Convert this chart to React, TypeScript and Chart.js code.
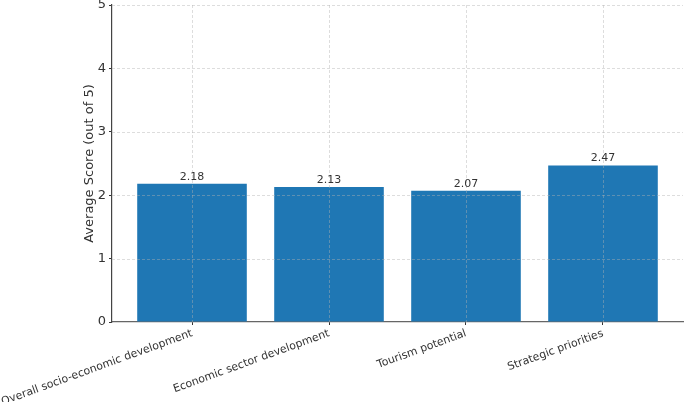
import React, { useEffect, useRef } from "react";
import { Chart, registerables } from "chart.js";

Chart.register(...registerables);

const categories = [
  "Overall socio-economic development",
  "Economic sector development",
  "Tourism potential",
  "Strategic priorities",
];
const scores = [2.18, 2.13, 2.07, 2.47];
const yTicks = [0, 1, 2, 3, 4, 5];
const yTitle = "Average Score (out of 5)";

const FONT = "'DejaVu Sans', sans-serif";

const overlayPlugin = {
  id: "overlay",
  afterDatasetsDraw(chart: any) {
    const { ctx, chartArea, scales } = chart;
    const xs = scales.x;
    const ys = scales.y;
    ctx.save();
    ctx.strokeStyle = "rgba(176,176,176,0.55)";
    ctx.lineWidth = 0.8;
    ctx.setLineDash([3, 2]);
    yTicks.forEach((v) => {
      if (v === 0) return;
      const y = Math.round(ys.getPixelForValue(v)) + 0.5;
      ctx.beginPath();
      ctx.moveTo(chartArea.left, y);
      ctx.lineTo(chartArea.right, y);
      ctx.stroke();
    });
    categories.forEach((_, i) => {
      const x = Math.round(xs.getPixelForValue(i)) + 0.5;
      ctx.beginPath();
      ctx.moveTo(x, chartArea.top);
      ctx.lineTo(x, chartArea.bottom);
      ctx.stroke();
    });
    ctx.setLineDash([]);
    const meta = chart.getDatasetMeta(0);
    ctx.fillStyle = "#333";
    ctx.font = `11px ${FONT}`;
    ctx.textAlign = "center";
    ctx.textBaseline = "alphabetic";
    meta.data.forEach((bar: any, i: number) => {
      ctx.fillText(scores[i].toFixed(2), bar.x, bar.y - 4);
    });
    ctx.restore();
  },
};

export default function App() {
  const ref = useRef<HTMLCanvasElement>(null);
  useEffect(() => {
    document.body.style.margin = "0";
    const chart = new Chart(ref.current!, {
      type: "bar",
      data: {
        datasets: [
          {
            data: scores.map((s, i) => ({ x: i, y: s })),
            backgroundColor: "#1f77b4",
            barPercentage: 0.8,
            categoryPercentage: 1,
          },
        ],
      },
      options: {
        responsive: false,
        animation: false,
        layout: { padding: { top: 5, right: 2, left: 0, bottom: 0 } },
        plugins: {
          legend: { display: false },
          tooltip: { enabled: false },
        },
        scales: {
          x: {
            type: "linear",
            min: -0.584,
            max: 3.584,
            offset: false,
            afterBuildTicks: (scale: any) => {
              scale.ticks = categories.map((_, i) => ({ value: i }));
            },
            afterFit: (scale: any) => {
              scale.height = 80;
              scale.paddingLeft = 0;
              scale.paddingRight = 0;
            },
            ticks: {
              autoSkip: false,
              minRotation: 20,
              maxRotation: 20,
              padding: 2,
              color: "#333",
              font: { family: FONT, size: 10.9 },
              callback: (v: any) => categories[v] ?? "",
            },
            grid: {
              display: true,
              offset: false,
              drawOnChartArea: false,
              drawTicks: true,
              tickLength: 3,
              color: "#333",
            },
            border: { display: true, color: "#666", width: 1.2 },
          },
          y: {
            min: 0,
            max: 5,
            afterBuildTicks: (scale: any) => {
              scale.ticks = yTicks.map((v) => ({ value: v }));
            },
            afterFit: (scale: any) => {
              scale.width = 112;
              scale.paddingTop = 0;
              scale.paddingBottom = 0;
            },
            ticks: {
              padding: 3,
              color: "#333",
              font: { family: FONT, size: 13 },
            },
            grid: {
              display: true,
              drawOnChartArea: false,
              drawTicks: true,
              tickLength: 3,
              color: "#333",
            },
            border: { display: true, color: "#444", width: 1.2 },
            title: {
              display: true,
              text: yTitle,
              color: "#333",
              font: { family: FONT, size: 13 },
              padding: { top: 82, bottom: 0 },
            },
          },
        },
      },
      plugins: [overlayPlugin],
    } as any);
    return () => chart.destroy();
  }, []);
  return (
    <div style={{ width: 685, height: 402 }}>
      <canvas ref={ref} width={685} height={402} />
    </div>
  );
}
